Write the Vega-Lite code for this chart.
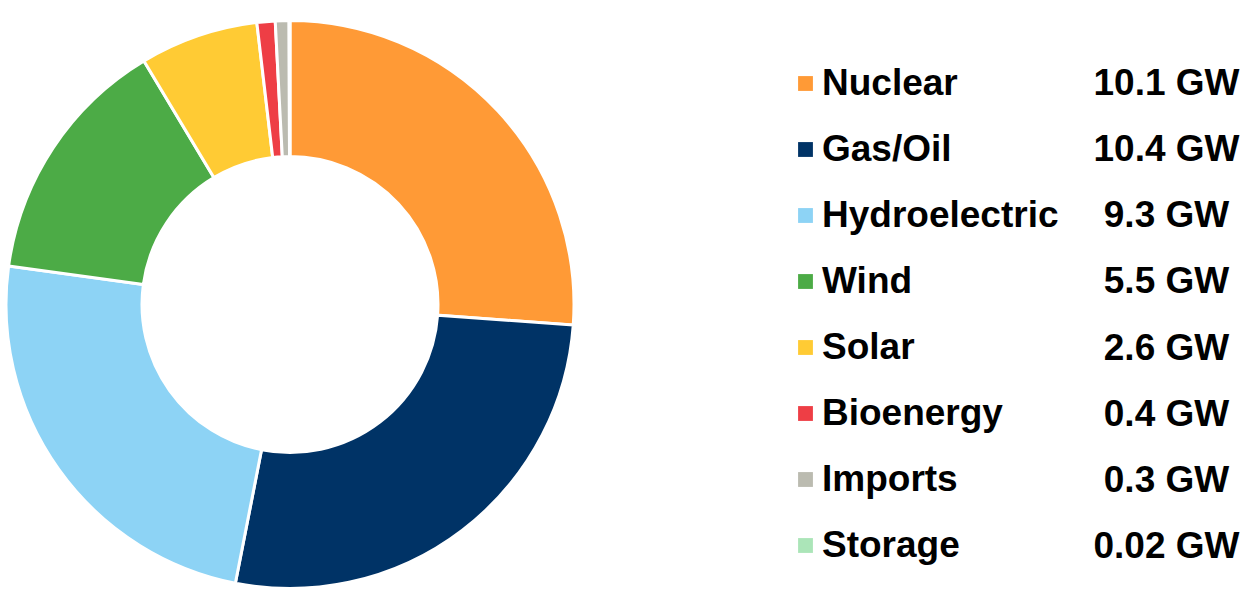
{
  "$schema": "https://vega.github.io/schema/vega-lite/v6.json",
  "background": "white",
  "padding": 0,
  "spacing": 492,
  "config": {
    "view": {"stroke": null},
    "font": "Liberation Sans"
  },
  "data": {
    "values": [
      {"rank": 1, "source": "Nuclear", "gw": 10.1, "label": "10.1 GW"},
      {"rank": 2, "source": "Gas/Oil", "gw": 10.4, "label": "10.4 GW"},
      {"rank": 3, "source": "Hydroelectric", "gw": 9.3, "label": "9.3 GW"},
      {"rank": 4, "source": "Wind", "gw": 5.5, "label": "5.5 GW"},
      {"rank": 5, "source": "Solar", "gw": 2.6, "label": "2.6 GW"},
      {"rank": 6, "source": "Bioenergy", "gw": 0.4, "label": "0.4 GW"},
      {"rank": 7, "source": "Imports", "gw": 0.3, "label": "0.3 GW"},
      {"rank": 8, "source": "Storage", "gw": 0.02, "label": "0.02 GW"}
    ]
  },
  "hconcat": [
    {
      "width": 568,
      "height": 609,
      "mark": {"type": "arc", "outerRadius": 284, "innerRadius": 148, "stroke": "white", "strokeWidth": 3},
      "encoding": {
        "theta": {"field": "gw", "type": "quantitative", "stack": true},
        "order": {"field": "rank", "type": "quantitative", "sort": "ascending"},
        "color": {
          "field": "source",
          "type": "nominal",
          "sort": ["Nuclear", "Gas/Oil", "Hydroelectric", "Wind", "Solar", "Bioenergy", "Imports", "Storage"],
          "scale": {
            "domain": ["Nuclear", "Gas/Oil", "Hydroelectric", "Wind", "Solar", "Bioenergy", "Imports", "Storage"],
            "range": ["#ff9a36", "#003366", "#8dd3f5", "#4cab46", "#ffcb34", "#ee3e45", "#bbbbb0", "#abe5b8"]
          },
          "legend": {
            "title": null,
            "orient": "none",
            "legendX": 781,
            "legendY": 65,
            "padding": 0,
            "symbolType": "square",
            "symbolSize": 220,
            "symbolStrokeWidth": 0,
            "labelFont": "Liberation Sans",
            "labelFontSize": 37,
            "labelFontWeight": "bold",
            "labelColor": "black",
            "labelOffset": -2,
            "labelLimit": 400,
            "rowPadding": 28
          }
        }
      }
    },
    {
      "width": 189,
      "height": 609,
      "mark": {"type": "text", "fontSize": 37, "fontWeight": "bold", "color": "black", "baseline": "middle", "align": "center"},
      "encoding": {
        "y": {
          "field": "source",
          "type": "nominal",
          "sort": null,
          "axis": null,
          "scale": {"type": "point", "range": [84, 547], "padding": 0}
        },
        "text": {"field": "label"}
      }
    }
  ]
}
